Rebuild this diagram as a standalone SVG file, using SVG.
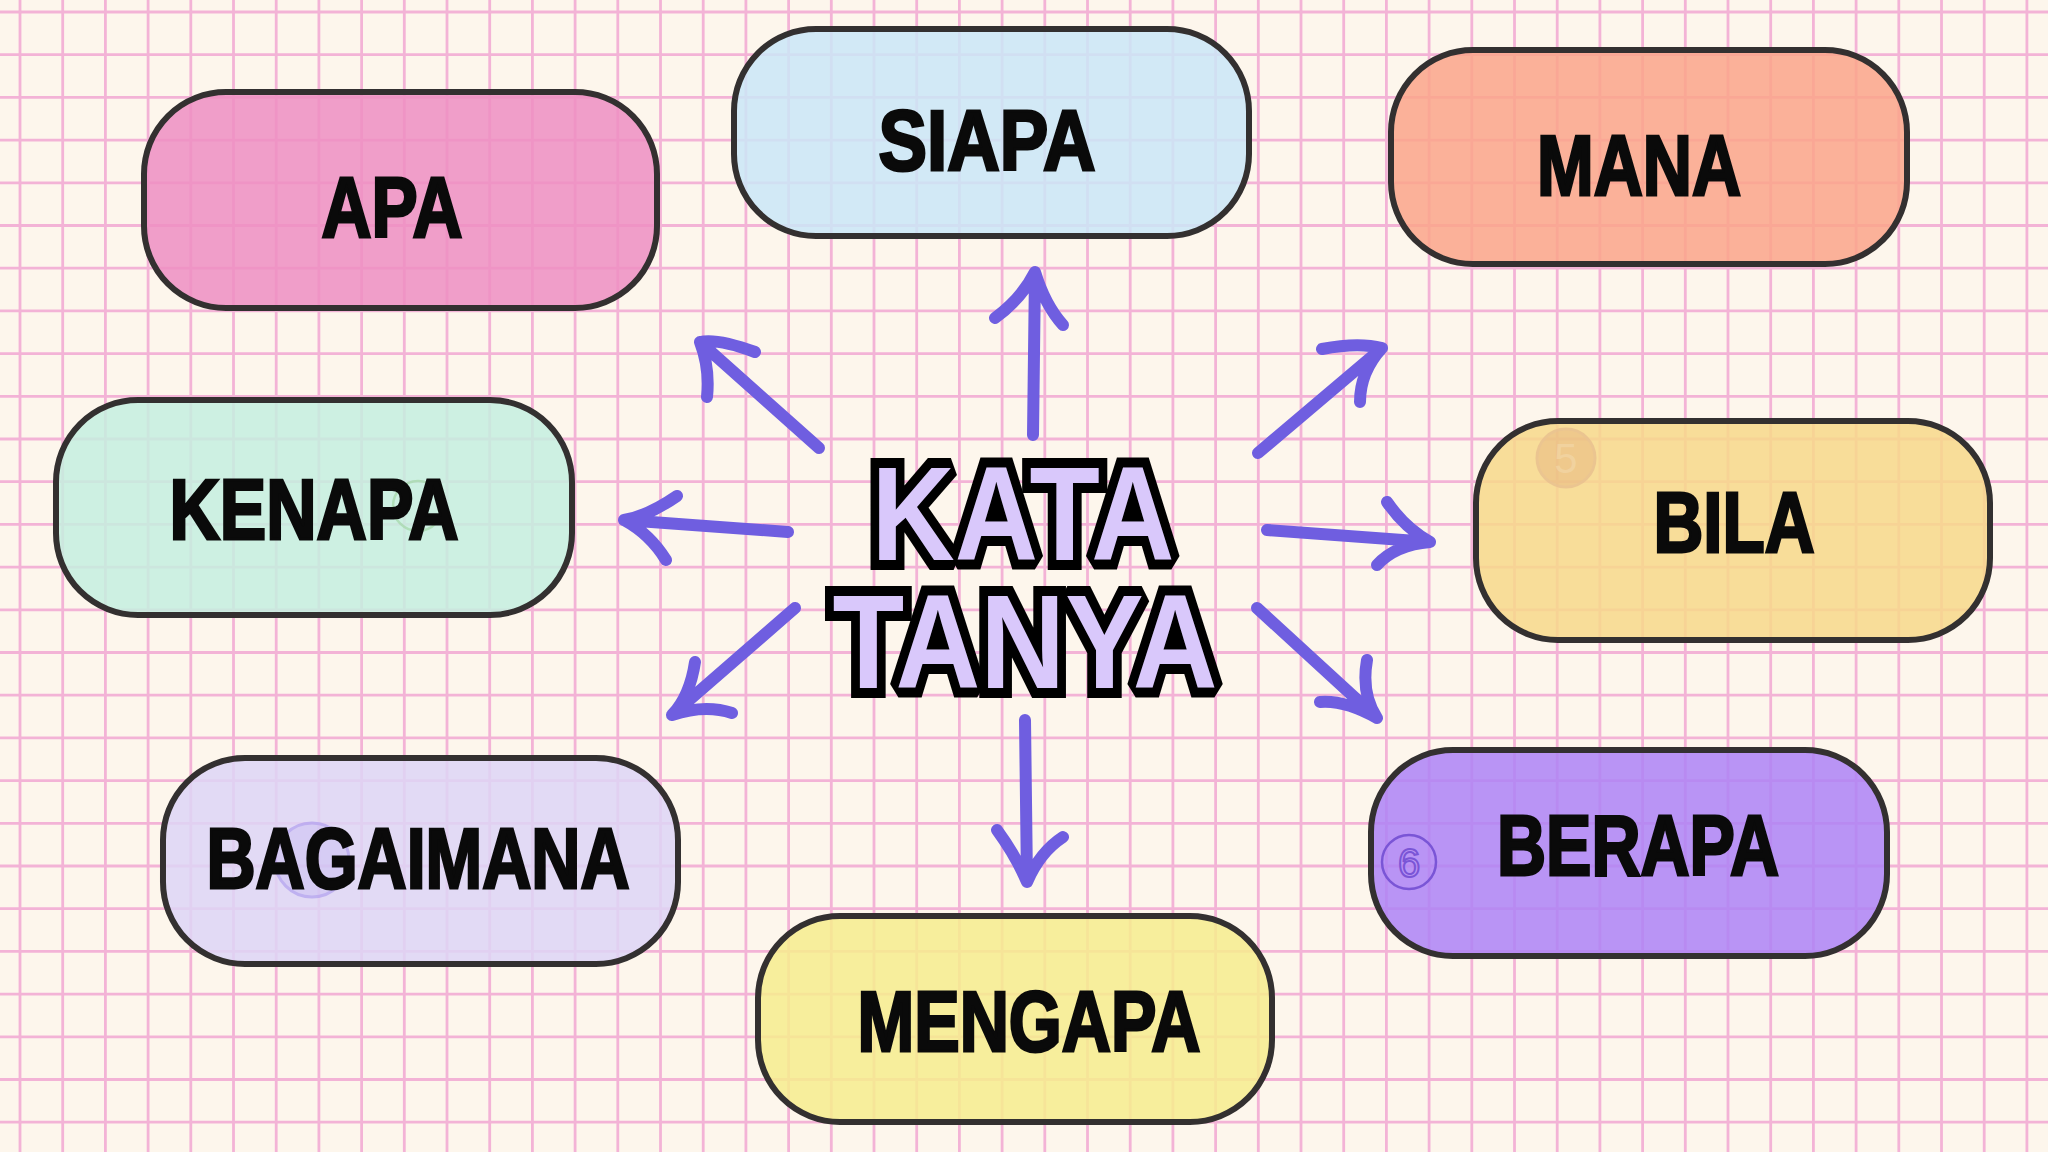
<svg xmlns="http://www.w3.org/2000/svg" width="2048" height="1152" viewBox="0 0 2048 1152">
<style>
.grid{fill:none;stroke:#F3B3D6;stroke-width:2.8}
.box{stroke:#333030;stroke-width:6;fill-opacity:0.86}
.lbl{font-family:"Liberation Sans",Arial,sans-serif;font-weight:bold;font-size:86px;fill:#0a0a0a;stroke:#0a0a0a;stroke-width:3;stroke-linejoin:miter;text-anchor:middle}
.title{font-family:"Liberation Sans",Arial,sans-serif;font-weight:bold;font-size:133px;fill:#D9C8FB;stroke:#000;stroke-width:20;stroke-linejoin:miter;stroke-miterlimit:1.5;paint-order:stroke;text-anchor:middle}
.arr{fill:none;stroke:#6F5EE0;stroke-width:12;stroke-linecap:round;stroke-linejoin:round}
</style>
<rect width="2048" height="1152" fill="#FDF6EC"/>
<path class="grid" d="M20,0V1152M62.7,0V1152M105.4,0V1152M148.1,0V1152M190.8,0V1152M233.5,0V1152M276.2,0V1152M318.9,0V1152M361.6,0V1152M404.3,0V1152M447,0V1152M489.7,0V1152M532.4,0V1152M575.1,0V1152M617.8,0V1152M660.5,0V1152M703.2,0V1152M745.9,0V1152M788.6,0V1152M831.3,0V1152M874,0V1152M916.7,0V1152M959.4,0V1152M1002.1,0V1152M1044.8,0V1152M1087.5,0V1152M1130.2,0V1152M1172.9,0V1152M1215.6,0V1152M1258.3,0V1152M1301,0V1152M1343.7,0V1152M1386.4,0V1152M1429.1,0V1152M1471.8,0V1152M1514.5,0V1152M1557.2,0V1152M1599.9,0V1152M1642.6,0V1152M1685.3,0V1152M1728,0V1152M1770.7,0V1152M1813.4,0V1152M1856.1,0V1152M1898.8,0V1152M1941.5,0V1152M1984.2,0V1152M2026.9,0V1152
M0,12H2048M0,54.7H2048M0,97.4H2048M0,140.1H2048M0,182.8H2048M0,225.5H2048M0,268.2H2048M0,310.9H2048M0,353.6H2048M0,396.3H2048M0,439H2048M0,481.7H2048M0,524.4H2048M0,567.1H2048M0,609.8H2048M0,652.5H2048M0,695.2H2048M0,737.9H2048M0,780.6H2048M0,823.3H2048M0,866H2048M0,908.7H2048M0,951.4H2048M0,994.1H2048M0,1036.8H2048M0,1079.5H2048M0,1122.2H2048"/>

<g id="node-apa">
<rect class="box" x="144" y="92" width="513" height="216" rx="82" fill="#EE8FC3"/>
<text class="lbl" x="392" y="237" textLength="141" lengthAdjust="spacingAndGlyphs">APA</text>
</g>
<g id="node-siapa">
<rect class="box" x="734" y="29" width="515" height="207" rx="82" fill="#CBE7F7"/>
<text class="lbl" x="987" y="170" textLength="217" lengthAdjust="spacingAndGlyphs">SIAPA</text>
</g>
<g id="node-mana">
<rect class="box" x="1391" y="50" width="516" height="214" rx="82" fill="#FAA58B"/>
<text class="lbl" x="1639" y="195" textLength="204" lengthAdjust="spacingAndGlyphs">MANA</text>
</g>
<g id="node-kenapa">
<rect class="box" x="56" y="400" width="516" height="215" rx="82" fill="#C5EFDF"/>
<circle cx="418" cy="506" r="25" fill="none" stroke="#9CD39E" stroke-width="2.5" opacity="0.6"/>
<text class="lbl" x="314" y="539" textLength="289" lengthAdjust="spacingAndGlyphs">KENAPA</text>
</g>
<g id="node-bila">
<rect class="box" x="1476" y="421" width="514" height="219" rx="82" fill="#F7D98A"/>
<circle cx="1566" cy="458" r="29" fill="#E5B17E" fill-opacity="0.55" stroke="#E9C08F" stroke-width="3" opacity="0.8"/>
<text x="1566" y="473" font-family="'Liberation Sans',Arial,sans-serif" font-size="42" fill="#F2D3A0" text-anchor="middle" opacity="0.9">5</text>
<text class="lbl" x="1734" y="552" textLength="161" lengthAdjust="spacingAndGlyphs">BILA</text>
</g>
<g id="node-bagaimana">
<rect class="box" x="163" y="758" width="515" height="206" rx="82" fill="#DDD5F6"/>
<circle cx="312" cy="860" r="37" fill="#B9A8F4" fill-opacity="0.45" stroke="#A996EE" stroke-width="3" opacity="0.6"/>
<text class="lbl" x="418" y="888" textLength="423" lengthAdjust="spacingAndGlyphs">BAGAIMANA</text>
</g>
<g id="node-mengapa">
<rect class="box" x="758" y="916" width="514" height="206" rx="82" fill="#F6EC8E"/>
<text class="lbl" x="1029" y="1051" textLength="343" lengthAdjust="spacingAndGlyphs">MENGAPA</text>
</g>
<g id="node-berapa">
<rect class="box" x="1371" y="750" width="516" height="206" rx="82" fill="#AD83F6"/>
<circle cx="1409" cy="862" r="27" fill="none" stroke="#7A55D6" stroke-width="2.5"/>
<text x="1409" y="877" font-family="'Liberation Sans',Arial,sans-serif" font-size="40" fill="none" stroke="#7A55D6" stroke-width="2" text-anchor="middle">6</text>
<text class="lbl" x="1638" y="875" textLength="282" lengthAdjust="spacingAndGlyphs">BERAPA</text>
</g>

<g id="center">
<text class="title"><tspan x="1023" y="560" textLength="303" lengthAdjust="spacingAndGlyphs">KATA</tspan><tspan x="1025" y="688" textLength="385" lengthAdjust="spacingAndGlyphs">TANYA</tspan></text>
</g>

<g id="connectors">
<path class="arr" d="M819,448 L700,342 M755,352 Q717,338 700,342 Q710,368 707,397"/>
<path class="arr" d="M1033,435 L1035,272 M995,318 Q1022,298 1035,272 Q1045,305 1063,325"/>
<path class="arr" d="M1258,453 L1382,348 M1322,349 Q1358,342 1382,348 Q1360,372 1360,402"/>
<path class="arr" d="M788,532 L624,520 M677,496 Q648,516 624,520 Q650,534 666,560"/>
<path class="arr" d="M1267,530 L1430,542 M1387,502 Q1405,528 1430,542 Q1395,545 1377,565"/>
<path class="arr" d="M795,608 L672,715 M695,662 Q690,696 672,715 Q705,704 732,713"/>
<path class="arr" d="M1025,720 L1027,882 M997,830 Q1016,856 1027,882 Q1040,852 1063,837"/>
<path class="arr" d="M1257,608 L1377,718 M1367,660 Q1361,694 1377,718 Q1345,700 1320,702"/>
</g>
</svg>
